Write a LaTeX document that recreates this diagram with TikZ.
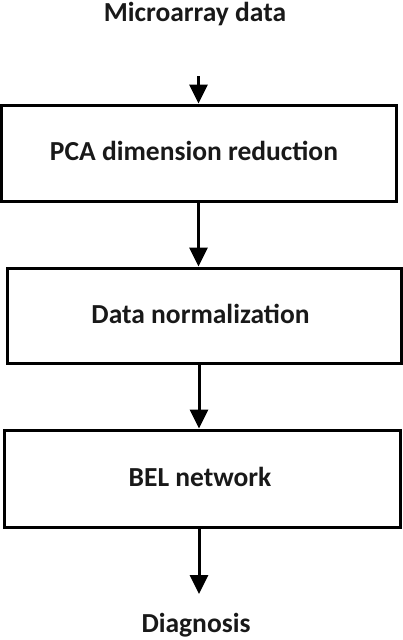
\documentclass[tikz,border=0pt]{standalone}
\usepackage{fontspec}
\setmainfont{Carlito}
\usetikzlibrary{arrows.meta}

\begin{document}
\begin{tikzpicture}[x=1pt, y=-1pt, line width=3pt,
    every node/.style={font=\fontsize{27.5}{32}\selectfont\bfseries, text=black!90},
    block/.style={draw, rectangle, inner sep=0pt},
    flow/.style={-{Triangle[width=18pt, length=19pt]}}]
    \useasboundingbox (0,0) rectangle (402,640);

    \node[anchor=base] (in) at (195,21) {Microarray data};
    \coordinate (inarrow) at (198.5,76);
    \node[block, minimum width=395pt, minimum height=96pt] (pca) at (198.5,153) {};
    \node[anchor=base] (pcatext) at (194,160) {PCA dimension reduction};
    \node[block, minimum width=394pt, minimum height=95pt] (norm) at (204,315.5) {};
    \node[anchor=base] (normtext) at (200.5,323) {Data normalization};
    \node[block, minimum width=396pt, minimum height=97pt] (bel) at (202,478.5) {};
    \node[anchor=base] (beltext) at (200,486) {BEL network};
    \node[anchor=base] (out) at (196,632) {Diagnosis};
    \coordinate (outarrow) at (199,594);

    \draw[flow] (inarrow) -- (inarrow |- pca.north);
    \draw[flow] (pca.south) -- (pca.south |- norm.north);
    \draw[flow] (bel.south -| outarrow) -- (outarrow);
    \draw[flow] (norm.south -| outarrow) -- (outarrow |- bel.north);
\end{tikzpicture}
\end{document}
